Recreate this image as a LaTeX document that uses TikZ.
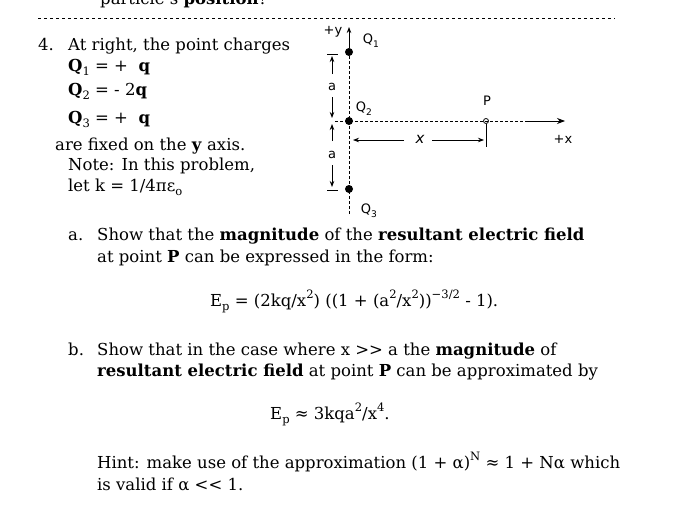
\documentclass[tikz,border=0pt]{standalone}
\usepackage{fontspec}
\setmainfont{DejaVu Serif}
\newfontfamily\hand{DejaVu Sans}
\usetikzlibrary{arrows.meta}
\newcommand\mysub[1]{\raisebox{-0.3em}{\scalebox{0.7}{#1}}}
\newcommand\mysup[1]{\raisebox{0.45em}{\scalebox{0.7}{#1}}}
\begin{document}
\begin{tikzpicture}[x=1pt,y=-1pt,
  txt/.style={anchor=base west,inner sep=0pt,font=\fontsize{16.5}{18}\selectfont},
  lbl/.style={inner sep=0pt,font=\hand\fontsize{13}{14}\selectfont},
  chg/.style={circle,fill=black,inner sep=0pt,minimum size=8pt},
  dim/.style={-{Stealth[length=6pt]},thick},
  axis/.style={densely dashed,thick}]
\useasboundingbox (0,0) rectangle (700,522);
\clip (0,0) rectangle (700,522);
\node[txt] (top) at (100,5) {particle's \textbf{position}?};
\coordinate (dl) at (38,18); \coordinate (dr) at (615,18);
\draw[dashed] (dl) -- (dr);
% left text
\node[txt] (n4) at (38,50) {4.};
\node[txt] (t1) at (68,50) {At right, the point charges};
\node[txt] (t2) at (68,71) {\textbf{Q}\mysub{1} = +\ \ \textbf{q}};
\node[txt] (t3) at (68,95) {\textbf{Q}\mysub{2} = - 2\textbf{q}};
\node[txt] (t4) at (68,123) {\textbf{Q}\mysub{3} = +\ \ \textbf{q}};
\node[txt] (t5) at (55,150) {are fixed on the \textbf{y} axis.};
\node[txt] (t6) at (68,170) {Note: In this problem,};
\node[txt] (t7) at (68,191) {let k = 1/4πε\mysub{o}};
% diagram
\node[chg] (Q1) at (349,52) {};
\node[chg] (Q2) at (349,121) {};
\node[chg] (Q3) at (349,189) {};
\node[circle,draw,thick,inner sep=0pt,minimum size=5pt] (P) at (486,121) {};
\coordinate (ytop) at (349,27); \coordinate (ybot) at (349,216);
\draw[axis] (Q1) -- (ybot);
\draw[-{Stealth[length=6pt]},thick] (Q1) -- (ytop);
\coordinate (xl) at (335,121); \coordinate (xr) at (525,121); \coordinate (xe) at (565,121);
\draw[axis] (xl) -- (xr);
\draw[-{Stealth[length=8pt]},thick] (xr) -- (xe);
\node[lbl] (ly) at (333,32) {+y};
\node[lbl] (lq1) at (371,41) {Q\mysub{1}};
\node[lbl] (lq2) at (364,109) {Q\mysub{2}};
\node[lbl] (lq3) at (369,211) {Q\mysub{3}};
\node[lbl] (lp) at (487,101) {P};
\node[lbl] (lx) at (563,139) {+x};
% a dimensions
\coordinate (b1a) at (327,54); \coordinate (b1b) at (338,54);
\draw[thick] (b1a) -- (b1b);
\coordinate (a1s) at (332,74); \coordinate (a1e) at (332,56);
\draw[dim] (a1s) -- (a1e);
\node[lbl] (la1) at (332,87) {a};
\coordinate (a2s) at (332,97); \coordinate (a2e) at (332,118);
\draw[dim] (a2s) -- (a2e);
\coordinate (a3s) at (332,141); \coordinate (a3e) at (332,124);
\draw[dim] (a3s) -- (a3e);
\node[lbl] (la2) at (332,155) {a};
\coordinate (a4s) at (332,165); \coordinate (a4e) at (332,187);
\draw[dim] (a4s) -- (a4e);
\coordinate (b2a) at (327,190); \coordinate (b2b) at (338,190);
\draw[thick] (b2a) -- (b2b);
% x dimension
\coordinate (x1s) at (404,140); \coordinate (x1e) at (353,140);
\draw[dim] (x1s) -- (x1e);
\node[lbl,font=\hand\itshape\fontsize{15}{16}\selectfont] (lxd) at (420,139) {x};
\coordinate (x2s) at (432,140); \coordinate (x2e) at (484,140);
\draw[dim] (x2s) -- (x2e);
\coordinate (tk1) at (486,127); \coordinate (tk2) at (486,147);
\draw[thick] (P) -- (tk1) (tk1) -- (tk2);
% part a
\node[txt] (na) at (68,240) {a.};
\node[txt] (a1) at (97,240) {Show that the \textbf{magnitude} of the \textbf{resultant electric field}};
\node[txt] (a2) at (97,262) {at point \textbf{P} can be expressed in the form:};
\node[txt] (fa) at (210,306) {E\mysub{p} = (2kq/x\mysup{2}) ((1 + (a\mysup{2}/x\mysup{2}))\mysup{−3/2} - 1).};
% part b
\node[txt] (nb) at (68,355) {b.};
\node[txt] (b1) at (97,355) {Show that in the case where x {>}{>} a the \textbf{magnitude} of};
\node[txt] (b2) at (97,376) {\textbf{resultant electric field} at point \textbf{P} can be approximated by};
\node[txt] (fb) at (270,419) {E\mysub{p} ≈ 3kqa\mysup{2}/x\mysup{4}.};
\node[txt] (h1) at (97,468) {Hint: make use of the approximation (1 + α)\mysup{N} ≈ 1 + Nα which};
\node[txt] (h2) at (97,490) {is valid if α {<}{<} 1.};
\end{tikzpicture}
\end{document}
